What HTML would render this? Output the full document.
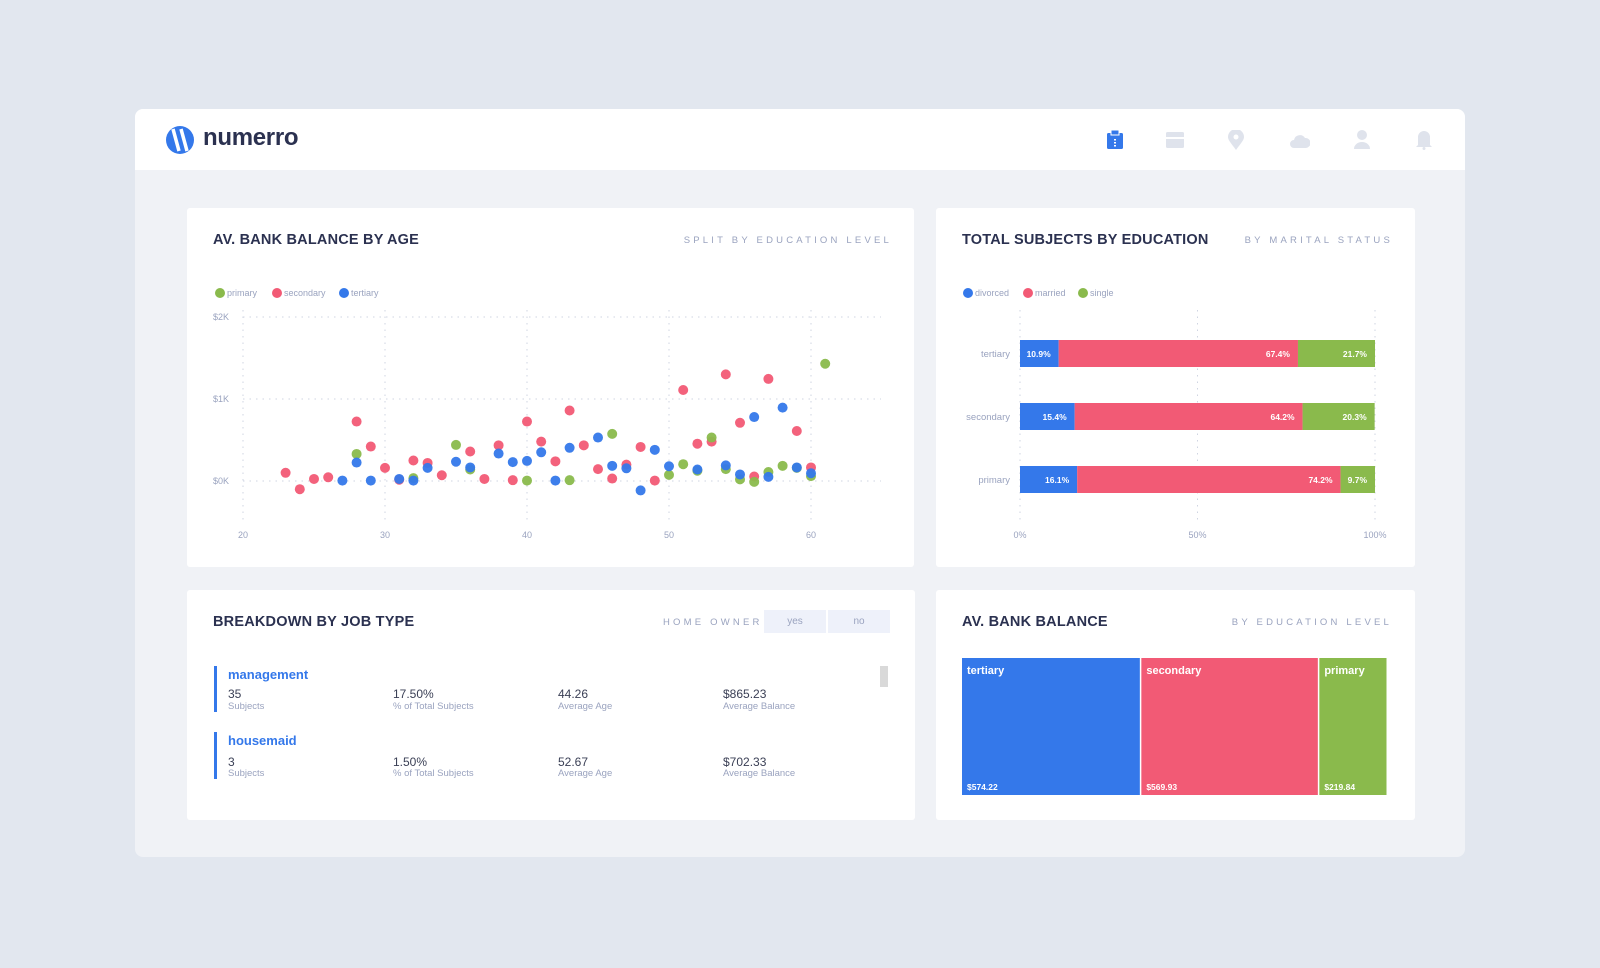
<!DOCTYPE html>
<html><head><meta charset="utf-8">
<style>
*{box-sizing:border-box;margin:0;padding:0}
body{width:1600px;height:968px;background:#e2e7ef;font-family:"Liberation Sans",sans-serif;position:relative;overflow:hidden}
.abs{position:absolute}
#card{left:135px;top:109px;width:1330px;height:748px;background:#f0f2f6;border-radius:8px;overflow:hidden}
#header{left:0;top:0;width:1330px;height:61px;background:#fff}
.panel{background:#fff;border-radius:3px}
.title{font-weight:bold;font-size:14.5px;color:#2b3150;letter-spacing:0.2px}
.sub{font-size:9.5px;color:#9aa3bf;letter-spacing:3.2px;text-align:right}
.num{font-size:12px;color:#3a3f55}
.cap{font-size:9.5px;color:#9aa3bf}
.job{font-size:13px;font-weight:bold;color:#3478ea}
</style></head><body>
<div id="card" class="abs">
 <div id="header" class="abs">
  <svg class="abs" style="left:30px;top:16px" width="30" height="30">
   <circle cx="15" cy="15" r="14" fill="#3478ea"/>
   <path d="M8 4 L14 26 M16 4 L22 26" stroke="#fff" stroke-width="3.5"/>
  </svg>
  <div class="abs" style="left:68px;top:15px;font-size:24px;font-weight:bold;color:#2b3150;letter-spacing:-0.3px">numerro</div>
  <svg class="abs" style="left:971px;top:21px" width="18" height="20"><rect x="1" y="3" width="16" height="16" rx="1.5" fill="#3478ea"/><rect x="5" y="0" width="8" height="5" fill="#3478ea" stroke="#fff" stroke-width="1"/><rect x="8" y="9" width="2" height="1.5" fill="#fff"/><rect x="8" y="12" width="2" height="1.5" fill="#fff"/><rect x="8" y="15" width="2" height="1.5" fill="#fff"/></svg>
  <svg class="abs" style="left:1031px;top:23px" width="18" height="16"><rect x="0" y="0" width="18" height="16" rx="1.5" fill="#dfe3ec"/><rect x="0" y="5" width="18" height="2" fill="#fff"/></svg>
  <svg class="abs" style="left:1093px;top:21px" width="16" height="20"><path d="M8 20 C3 13 0 10 0 7 A8 8 0 0 1 16 7 C16 10 13 13 8 20Z" fill="#dfe3ec"/><circle cx="8" cy="7" r="2.5" fill="#fff"/></svg>
  <svg class="abs" style="left:1155px;top:23px" width="20" height="16"><path d="M4 16 A4 4 0 0 1 4 8 A6 6 0 0 1 15 6 A5 5 0 0 1 16 16Z" fill="#dfe3ec"/></svg>
  <svg class="abs" style="left:1219px;top:21px" width="16" height="19"><circle cx="8" cy="5" r="5" fill="#dfe3ec"/><path d="M0 19 A8 7 0 0 1 16 19Z" fill="#dfe3ec"/></svg>
  <svg class="abs" style="left:1281px;top:20px" width="16" height="21"><path d="M2 16 L2 8 A6 6 0 0 1 14 8 L14 16 L16 18 L0 18Z" fill="#dfe3ec"/><circle cx="8" cy="19.5" r="1.5" fill="#dfe3ec"/></svg>
 </div>
</div>

<!-- Panel 1 scatter -->
<div class="abs panel" style="left:187px;top:208px;width:727px;height:359px"></div>
<div class="abs title" style="left:213px;top:232px">AV. BANK BALANCE BY AGE</div>
<div class="abs sub" style="left:600px;top:235px;width:292px">SPLIT BY EDUCATION LEVEL</div>
<svg id="scatter" class="abs" style="left:187px;top:208px" width="727" height="359"></svg>

<!-- Panel 2 bar -->
<div class="abs panel" style="left:936px;top:208px;width:479px;height:359px"></div>
<div class="abs title" style="left:962px;top:232px">TOTAL SUBJECTS BY EDUCATION</div>
<div class="abs sub" style="left:1200px;top:235px;width:193px">BY MARITAL STATUS</div>
<svg id="bars" class="abs" style="left:936px;top:208px" width="479" height="359"></svg>

<!-- Panel 3 job breakdown -->
<div class="abs panel" style="left:187px;top:590px;width:728px;height:230px"></div>
<div class="abs title" style="left:213px;top:614px">BREAKDOWN BY JOB TYPE</div>
<div class="abs sub" style="left:663px;top:617px;width:100px;text-align:left;white-space:nowrap">HOME OWNER</div>
<div class="abs" style="left:764px;top:610px;width:62px;height:23px;background:#eef1fa;font-size:10px;color:#9aa3bf;text-align:center;line-height:23px">yes</div>
<div class="abs" style="left:828px;top:610px;width:62px;height:23px;background:#eef1fa;font-size:10px;color:#9aa3bf;text-align:center;line-height:23px">no</div>
<div class="abs" style="left:880px;top:666px;width:8px;height:21px;background:#d9d9d9"></div>

<div class="abs" style="left:214px;top:666px;width:3px;height:46px;background:#3478ea"></div>
<div class="abs job" style="left:228px;top:667px">management</div>
<div class="abs num" style="left:228px;top:687px">35</div>
<div class="abs cap" style="left:228px;top:701px">Subjects</div>
<div class="abs num" style="left:393px;top:687px">17.50%</div>
<div class="abs cap" style="left:393px;top:701px">% of Total Subjects</div>
<div class="abs num" style="left:558px;top:687px">44.26</div>
<div class="abs cap" style="left:558px;top:701px">Average Age</div>
<div class="abs num" style="left:723px;top:687px">$865.23</div>
<div class="abs cap" style="left:723px;top:701px">Average Balance</div>

<div class="abs" style="left:214px;top:732px;width:3px;height:47px;background:#3478ea"></div>
<div class="abs job" style="left:228px;top:733px">housemaid</div>
<div class="abs num" style="left:228px;top:755px">3</div>
<div class="abs cap" style="left:228px;top:768px">Subjects</div>
<div class="abs num" style="left:393px;top:755px">1.50%</div>
<div class="abs cap" style="left:393px;top:768px">% of Total Subjects</div>
<div class="abs num" style="left:558px;top:755px">52.67</div>
<div class="abs cap" style="left:558px;top:768px">Average Age</div>
<div class="abs num" style="left:723px;top:755px">$702.33</div>
<div class="abs cap" style="left:723px;top:768px">Average Balance</div>

<!-- Panel 4 treemap -->
<div class="abs panel" style="left:936px;top:590px;width:479px;height:230px"></div>
<div class="abs title" style="left:962px;top:614px">AV. BANK BALANCE</div>
<div class="abs sub" style="left:1180px;top:617px;width:212px">BY EDUCATION LEVEL</div>
<svg id="tree" class="abs" style="left:936px;top:590px" width="479" height="230"></svg>

<script>
const NS='http://www.w3.org/2000/svg';
function mk(p,t,a){const e=document.createElementNS(NS,t);for(const k in a)e.setAttribute(k,a[k]);p.appendChild(e);return e;}
const COL={primary:'#8aba4c',secondary:'#f25a75',tertiary:'#3478ea',divorced:'#3478ea',married:'#f25a75',single:'#8aba4c'};

// ---- scatter data ----
const secAge=[23,24,25,26,28,29,30,31,32,33,34,36,37,38,39,40,41,42,43,44,45,46,47,48,49,51,52,53,54,55,56,57,59,60];
const secBal=[100,-100,25,45,725,420,160,15,250,220,70,360,25,435,10,725,480,240,860,435,145,30,200,415,5,1110,455,480,1300,710,55,1245,610,165];
const priAge=[28,32,35,36,40,43,46,50,51,52,53,54,55,56,57,58,59,60,61];
const priBal=[330,35,440,140,5,10,575,75,205,125,530,145,20,-10,110,185,160,60,1430];
const terAge=[27,28,29,31,32,33,35,36,38,39,40,41,42,43,45,46,47,48,49,50,52,54,55,56,57,58,59,60];
const terBal=[5,225,5,25,5,160,235,165,335,230,245,350,5,405,530,185,155,-115,380,180,140,190,80,780,50,895,165,95];
const xTicks=[20,30,40,50,60];
const yTicks=[0,1000,2000];
const yTickLabels=['$0K','$1K','$2K'];

const sc=document.getElementById('scatter');
const sx=a=>56+(a-20)*(624-56)/40;
const sy=v=>273-v*(273-109)/2000;
xTicks.forEach(t=>{const l=mk(sc,'line',{x1:sx(t),x2:sx(t),y1:102,y2:312,stroke:'#cfd4e2','stroke-dasharray':'1.5 5'});
 
 const tx=mk(sc,'text',{x:sx(t),y:330,'text-anchor':'middle','font-size':9,fill:'#9aa3bf'});tx.textContent=t;
 });
yTicks.forEach((t,i)=>{const l=mk(sc,'line',{x1:56,x2:694,y1:sy(t),y2:sy(t),stroke:'#cfd4e2','stroke-dasharray':'1.5 5'});
 
 const tx=mk(sc,'text',{x:42,y:sy(t)+3,'text-anchor':'end','font-size':9,fill:'#9aa3bf'});tx.textContent=yTickLabels[i];
 });
[['secondary',secAge,secBal],['primary',priAge,priBal],['tertiary',terAge,terBal]].forEach(([k,A,B])=>{
 A.forEach((a,i)=>{const c=mk(sc,'circle',{cx:sx(a),cy:sy(B[i]),r:5,fill:COL[k],opacity:0.95});
  });});
const sLeg=['primary','secondary','tertiary'];let lx=28;
sLeg.forEach(k=>{const c=mk(sc,'circle',{cx:lx+5,cy:85,r:5,fill:COL[k]});
 const t=mk(sc,'text',{x:lx+12,y:88,'font-size':9,fill:'#9aa3bf'});t.textContent=k;
 lx+=12+k.length*5+10;});

// ---- bar data ----
const barCats=['tertiary','secondary','primary'];
const divorced=[10.9,15.4,16.1];
const married=[67.4,64.2,74.2];
const single=[21.7,20.3,9.7];
const pctTicks=[0,50,100];
const bs=document.getElementById('bars');
const bx=p=>84+p*(439-84)/100;
pctTicks.forEach(t=>{const l=mk(bs,'line',{x1:bx(t),x2:bx(t),y1:102,y2:315,stroke:'#cfd4e2','stroke-dasharray':'1.5 5'});
 
 const tx=mk(bs,'text',{x:bx(t),y:330,'text-anchor':'middle','font-size':9,fill:'#9aa3bf'});tx.textContent=t+'%';
 });
barCats.forEach((c,i)=>{const y=132+i*63;
 const t=mk(bs,'text',{x:74,y:y+17,'text-anchor':'end','font-size':9.5,fill:'#9aa3bf'});t.textContent=c;
 
 let acc=0;[['divorced',divorced[i]],['married',married[i]],['single',single[i]]].forEach(([k,v])=>{
  const r=mk(bs,'rect',{x:bx(acc),y:y,width:bx(acc+v)-bx(acc),height:27,fill:COL[k]});
  
  acc+=v;const tv=mk(bs,'text',{x:bx(acc)-8,y:y+17,'text-anchor':'end','font-size':8.5,'font-weight':'bold',fill:'#fff'});tv.textContent=v.toFixed(1)+'%';
  });});
const bLeg=['divorced','married','single'];lx=27;
bLeg.forEach(k=>{const c=mk(bs,'circle',{cx:lx+5,cy:85,r:5,fill:COL[k]});
 const t=mk(bs,'text',{x:lx+12,y:88,'font-size':9,fill:'#9aa3bf'});t.textContent=k;
 lx+=12+k.length*5+8;});

// ---- treemap data ----
const treeCats=['tertiary','secondary','primary'];
const treeVals=[574.22,569.93,219.84];
const tr=document.getElementById('tree');
const total=treeVals.reduce((a,b)=>a+b,0);
let tx0=26;const tw=426;
treeCats.forEach((c,i)=>{const w=treeVals[i]/total*tw;
 const r=mk(tr,'rect',{x:tx0,y:68,width:w-1.5,height:137,fill:COL[c]});
 
 const t=mk(tr,'text',{x:tx0+5,y:84,'font-size':11,'font-weight':'bold',fill:'#fff'});t.textContent=c;
 
 const v=mk(tr,'text',{x:tx0+5,y:200,'font-size':8.5,'font-weight':'bold',fill:'#fff'});v.textContent='$'+treeVals[i].toFixed(2);
 
 tx0+=w;});
</script>
</body></html>
